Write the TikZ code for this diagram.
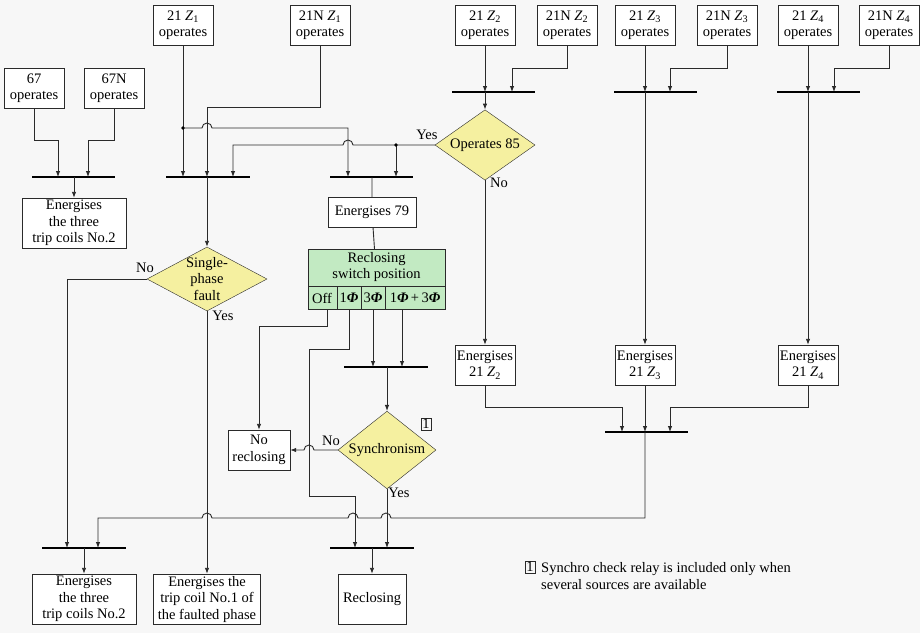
\documentclass[tikz,border=0pt]{standalone}
\usepackage{fontspec}
\setmainfont{Liberation Serif}
\usetikzlibrary{arrows.meta,shapes.geometric}
\definecolor{dyel}{HTML}{F5F0A0}
\definecolor{dgrn}{HTML}{C2EAC2}
\definecolor{wgr}{HTML}{2A2A2A}
\newcommand{\Zs}[1]{\textit{Z}\textsubscript{#1}}
\newcommand{\Ph}{\textit{\textbf{Φ}}}
\tikzset{
  txt/.style={font=\fontsize{14.5}{16.5}\selectfont, inner sep=1pt},
  box/.style={txt, draw=wgr, fill=white, align=center},
  sbox/.style={box, minimum width=60, minimum height=40},
  dec/.style={txt, draw=wgr, fill=dyel, shape=diamond, align=center, inner sep=-3pt},
  bar/.style={line width=1.9pt, black},
  wire/.style={draw=wgr, line width=0.9pt},
  arr/.style={wire, -{Latex[length=6pt,width=4.5pt]}},
  dot/.style={fill=black, circle, inner sep=1.4pt},
}
\begin{document}
\begin{tikzpicture}[x=1pt,y=-1pt]
\useasboundingbox[fill=white!97!black] (0,0) rectangle (920,633);

% top row
\node[sbox] (z1)  at (183,25) {21 \Zs{1}\\operates};
\node[sbox] (n1)  at (320,25) {21N \Zs{1}\\operates};
\node[sbox] (z2)  at (485,25) {21 \Zs{2}\\operates};
\node[sbox] (n2)  at (567,25) {21N \Zs{2}\\operates};
\node[sbox] (z3)  at (645,25) {21 \Zs{3}\\operates};
\node[sbox] (n3)  at (727,25) {21N \Zs{3}\\operates};
\node[sbox] (z4)  at (808,25) {21 \Zs{4}\\operates};
\node[sbox] (n4)  at (889,25) {21N \Zs{4}\\operates};
\node[sbox] (s67) at (34,88)  {67\\operates};
\node[sbox] (s67n) at (114,88) {67N\\operates};

% bars (name/left/right/y/tap)
\foreach \n/\a/\b/\y/\c in {ba/32/115/177/74, bb/166/250/177/207, bc/330/413/177/372,
    bz2/452/535/92/485, bz3/614/697/92/645, bz4/777/860/92/808, bs/344/428/367/387,
    bz/605/688/432/645, bl/42/126/548/84, br/330/414/548/372}
  {\draw[bar] (\a,\y) -- (\b,\y);
   \coordinate (\n) at (\c,\y);}

% boxes
\node[box, minimum width=104, minimum height=50] (tc2a) at (74,223) {Energises\\the three\\trip coils No.2};
\node[box, minimum width=88, minimum height=30] (e79) at (372,212) {Energises 79};
\node[box, fill=dgrn, minimum width=137, minimum height=60] (rsw) at (376.5,279) {};
\node[txt, align=center] at (376.5,267) {Reclosing\\switch position};
\draw[wire] (308,286) -- (445,286);
\foreach \x in {337,361,385} \draw[wire] (\x,286) -- (\x,309);
\node[txt] (off) at (322,298) {Off};
\node[txt] (p1)  at (349,298) {1\Ph};
\node[txt] (p3)  at (373,298) {3\Ph};
\node[txt] (p13) at (415,298) {1\Ph\,+\,3\Ph};
\node[sbox] (ez2) at (485,365) {Energises\\21 \Zs{2}};
\node[sbox] (ez3) at (645,365) {Energises\\21 \Zs{3}};
\node[sbox] (ez4) at (808,365) {Energises\\21 \Zs{4}};
\node[box, minimum width=62, minimum height=40] (norc) at (259,450) {No\\reclosing};
\node[box, minimum width=104, minimum height=50] (tc2b) at (84,599) {Energises\\the three\\trip coils No.2};
\node[box, minimum width=107, minimum height=50] (tc1) at (207,599) {Energises the\\trip coil No.1 of\\the faulted phase};
\node[box, minimum width=68, minimum height=50] (rcl) at (372,599) {Reclosing};

% decisions
\node[dec, minimum width=100, minimum height=60] (d85) at (485,145) {Operates 85};
\node[dec, minimum width=120, minimum height=64, inner sep=-6pt] (dsp) at (207,279) {Single-\\phase\\fault};
\node[dec, minimum width=98, minimum height=64] (dsy) at (387,450) {Synchronism};
\node[txt] at (427,135) {Yes};
\node[txt] at (499,183) {No};
\node[txt] at (145,268) {No};
\node[txt] at (223,316) {Yes};
\node[txt] at (331,441) {No};
\node[txt] at (399,493) {Yes};
\node[txt, draw=wgr, inner sep=1.5pt] (m1) at (426,424) {1};

% wires
\draw[arr] (s67) -- (34,140) -- (58,140) -- (58,177);
\draw[arr] (s67n) -- (114,140) -- (88,140) -- (88,177);
\draw[arr] (ba) -- (tc2a);
\draw[arr] (z1) -- (183,177);
\draw[arr] (183,128) -- (202,128) arc[start angle=180,end angle=360,radius=5] -- (348,128) -- (348,177);
\node[dot] at (183,128) {};
\draw[arr] (n1) -- (320,107) -- (207,107) -- (207,177);
\draw[arr] (d85.west) -- (353,145) arc[start angle=0,end angle=-180,radius=5] -- (233,145) -- (233,177);
\draw[arr] (396,145) -- (396,177);
\node[dot] at (396,145) {};
\draw[wire] (bc) -- (e79) -- (rsw);
\draw[arr] (z2) -- (485,92);
\draw[arr] (n2) -- (567,68) -- (512,68) -- (512,92);
\draw[arr] (bz2) -- (d85);
\draw[arr] (z3) -- (645,92);
\draw[arr] (n3) -- (727,68) -- (670,68) -- (670,92);
\draw[arr] (z4) -- (808,92);
\draw[arr] (n4) -- (889,68) -- (834,68) -- (834,92);
\draw[arr] (d85) -- (ez2);
\draw[arr] (bz3) -- (ez3);
\draw[arr] (bz4) -- (ez4);
\draw[arr] (ez2) -- (485,407) -- (622,407) -- (622,432);
\draw[arr] (ez3) -- (645,432);
\draw[arr] (ez4) -- (808,407) -- (670,407) -- (670,432);
\draw[arr] (bz) -- (645,518) -- (391,518) arc[start angle=0,end angle=-180,radius=5]
  -- (358,518) arc[start angle=0,end angle=-180,radius=5]
  -- (212,518) arc[start angle=0,end angle=-180,radius=5] -- (98,518) -- (98,548);
\draw[arr] (bb) -- (dsp);
\draw[arr] (dsp.west) -- (67,279) -- (67,548);
\draw[arr] (dsp) -- (tc1);
\draw[arr] (bl) -- (tc2b);
\draw[arr] (327,309) -- (327,326) -- (259,326) -- (norc);
\draw[arr] (349,309) -- (349,349) -- (309,349) -- (309,496) -- (355,496) -- (355,548);
\draw[arr] (373,309) -- (373,367);
\draw[arr] (402,309) -- (402,367);
\draw[arr] (bs) -- (dsy);
\draw[arr] (dsy.west) -- (314,450) arc[start angle=0,end angle=-180,radius=5] -- (norc);
\draw[arr] (dsy) -- (387,548);
\draw[arr] (br) -- (rcl);

% note
\node[txt, draw=wgr, inner sep=1.5pt] (m2) at (530,567) {1};
\node[txt, anchor=west, align=left] at (540,576) {Synchro check relay is included only when\\several sources are available};
\end{tikzpicture}
\end{document}
